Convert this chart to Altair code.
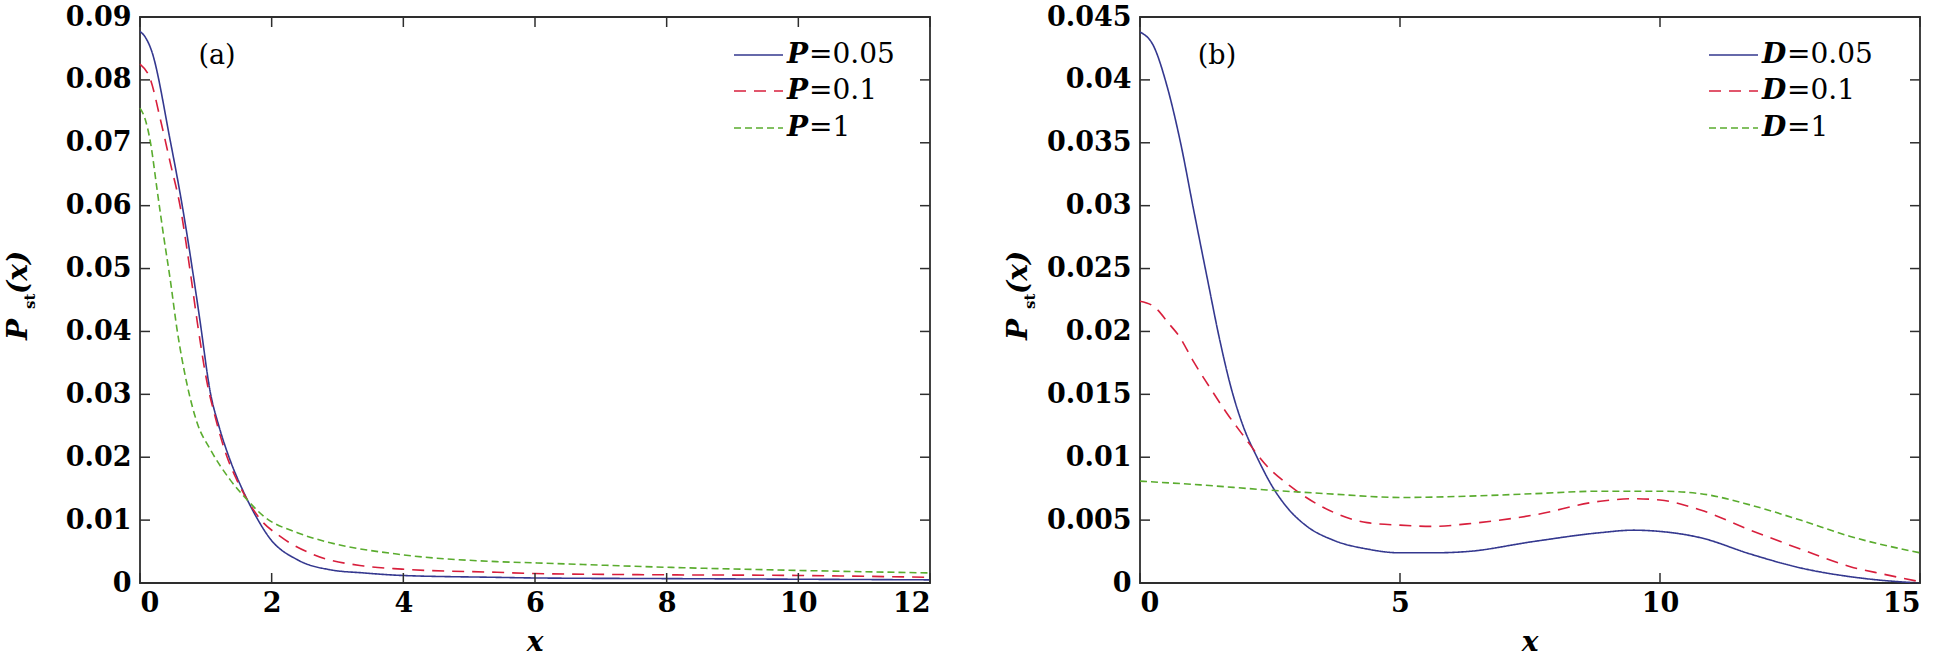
import altair as alt
import pandas as pd

# ---------------- panel (a): stationary density for several P ----------------
a_labels = ["P=0.05", "P=0.1", "P=1"]

a_x_p005 = [0, 0.08, 0.17, 0.46, 0.64, 0.85, 0.91, 1.07, 1.2, 1.37, 1.55, 1.73, 1.98,
            2.39, 2.89, 3.4, 3.98, 5.42, 6, 8, 10, 12]
a_y_p005 = [0.0877, 0.0868, 0.0848, 0.0703, 0.0601, 0.0461, 0.0418, 0.0302, 0.0249,
            0.0195, 0.0150, 0.0112, 0.0070, 0.0037, 0.0021, 0.0016, 0.0012, 0.0009,
            0.0008, 0.0007, 0.0006, 0.0005]

a_x_p01 = [0, 0.16, 0.31, 0.46, 0.61, 0.77, 0.87, 1.02, 1.14, 1.32, 1.47, 1.63, 1.83,
           2.13, 2.64, 3.4, 3.98, 5.42, 6, 8, 10, 12]
a_y_p01 = [0.0825, 0.080, 0.0737, 0.0668, 0.0599, 0.0490, 0.0415, 0.0318, 0.0265,
           0.0201, 0.0164, 0.0132, 0.0101, 0.0074, 0.0045, 0.0027, 0.0022, 0.0017,
           0.0015, 0.0013, 0.0012, 0.0009]

a_x_p1 = [0, 0.08, 0.16, 0.26, 0.36, 0.46, 0.56, 0.71, 0.87, 1.07, 1.37, 1.63, 1.88,
          2.39, 2.89, 3.9, 5.42, 6, 8, 10, 12]
a_y_p1 = [0.0755, 0.0737, 0.070, 0.0625, 0.0551, 0.0482, 0.0405, 0.0318, 0.0254,
          0.0212, 0.0164, 0.0132, 0.0106, 0.0080, 0.0064, 0.0046, 0.0034, 0.0032,
          0.0025, 0.0020, 0.0016]

a_x_ticks = [0, 2, 4, 6, 8, 10, 12]
a_y_ticks = [0, 0.01, 0.02, 0.03, 0.04, 0.05, 0.06, 0.07, 0.08, 0.09]

# ---------------- panel (b): stationary density for several D ----------------
b_labels = ["D=0.05", "D=0.1", "D=1"]

b_x_d005 = [0, 0.26, 0.52, 0.78, 1.03, 1.29, 1.54, 1.74, 1.99, 2.25, 2.57, 2.83, 3.18,
            3.72, 4.37, 5.0, 5.65, 6.29, 7.57, 8.85, 9.49, 10.0, 10.78, 11.74, 12.7,
            13.66, 14.3, 15]
b_y_d005 = [0.0438, 0.0427, 0.0395, 0.0350, 0.0297, 0.0243, 0.0192, 0.0157, 0.0124,
            0.0100, 0.0075, 0.0060, 0.0046, 0.0034, 0.0027, 0.0024, 0.0024, 0.0025,
            0.0033, 0.0040, 0.0042, 0.0041, 0.0036, 0.0023, 0.0012, 0.0005, 0.0002, 0.0]

b_x_d01 = [0, 0.26, 0.58, 0.74, 1.03, 1.35, 1.67, 1.99, 2.44, 2.89, 3.53, 4.37, 5.0,
           5.65, 6.29, 7.57, 8.85, 9.49, 10.0, 10.78, 11.74, 12.7, 13.66, 14.3, 15]
b_y_d01 = [0.0224, 0.0220, 0.0205, 0.0197, 0.0176, 0.0155, 0.0135, 0.0117, 0.0093,
           0.0077, 0.0060, 0.0048, 0.0046, 0.0045, 0.0047, 0.0054, 0.0065, 0.0067,
           0.0066, 0.0058, 0.0042, 0.0027, 0.0013, 0.0007, 0.0001]

b_x_d1 = [0, 1.16, 2.44, 3.6, 5.0, 6.29, 7.57, 8.85, 10.0, 10.78, 11.74, 12.7, 13.66, 15]
b_y_d1 = [0.0081, 0.0078, 0.0074, 0.0071, 0.0068, 0.0069, 0.0071, 0.0073, 0.0073,
          0.0071, 0.0062, 0.0050, 0.0037, 0.0024]

b_x_ticks = [0, 5, 10, 15]
b_y_ticks = [0, 0.005, 0.01, 0.015, 0.02, 0.025, 0.03, 0.035, 0.04, 0.045]

# ---------------- styling ----------------
FONT = "DejaVu Serif"
FRAME = "#2e2e2e"
LINE_COLORS = ["#34388f", "#d81f3c", "#5aac2e"]
LINE_DASHES = [[1, 0], [12, 8], [7, 4]]
TICK_LEN = 10
LABEL_STYLE = dict(labelFont=FONT, labelFontSize=27, labelFontWeight="bold",
                   labelColor="black")


def frame(xs_list, ys_list, labels):
    parts = []
    for xs, ys, lab in zip(xs_list, ys_list, labels):
        parts.append(pd.DataFrame({"x": xs, "y": ys, "series": lab}))
    return pd.concat(parts, ignore_index=True)


def text_layer(txt, x, y, size=28, **kw):
    return alt.Chart(pd.DataFrame({"t": [txt]})).mark_text(
        font=FONT, fontSize=size, color="black", **kw
    ).encode(text="t:N", x=alt.value(x), y=alt.value(y))


def panel(data, labels, symbol, x_max, y_max, x_ticks, y_ticks, y_fmt,
          width, height, letter, leg_x0, leg_sym_x, leg_val_x):
    xsc = alt.Scale(domain=[0, x_max], nice=False, zero=False)
    ysc = alt.Scale(domain=[0, y_max], nice=False, zero=False)
    xax = alt.Axis(values=x_ticks, format="~g", title=None, ticks=False,
                   domain=False, grid=False, labelPadding=7, **LABEL_STYLE)
    yax = alt.Axis(values=y_ticks, format=y_fmt, title=None, ticks=False,
                   domain=False, grid=False, labelPadding=9, **LABEL_STYLE)

    lines = alt.Chart(data).mark_line(strokeWidth=1.6, interpolate="monotone").encode(
        x=alt.X("x:Q", scale=xsc, axis=xax),
        y=alt.Y("y:Q", scale=ysc, axis=yax),
        color=alt.Color("series:N", scale=alt.Scale(domain=labels, range=LINE_COLORS),
                        legend=None),
        strokeDash=alt.StrokeDash("series:N",
                                  scale=alt.Scale(domain=labels, range=LINE_DASHES),
                                  legend=None),
    )

    # inward ticks on all four sides
    xt = pd.DataFrame({"t": x_ticks})
    yt = pd.DataFrame({"t": y_ticks})
    rule = dict(color=FRAME, strokeWidth=1.5)
    ticks = [
        alt.Chart(xt).mark_rule(**rule).encode(
            x=alt.X("t:Q", scale=xsc, axis=xax),
            y=alt.value(height), y2=alt.value(height - TICK_LEN)),
        alt.Chart(xt).mark_rule(**rule).encode(
            x=alt.X("t:Q", scale=xsc, axis=xax),
            y=alt.value(0), y2=alt.value(TICK_LEN)),
        alt.Chart(yt).mark_rule(**rule).encode(
            y=alt.Y("t:Q", scale=ysc, axis=yax),
            x=alt.value(0), x2=alt.value(TICK_LEN)),
        alt.Chart(yt).mark_rule(**rule).encode(
            y=alt.Y("t:Q", scale=ysc, axis=yax),
            x=alt.value(width), x2=alt.value(width - TICK_LEN)),
    ]

    # legend drawn by hand so the symbol can be italic and the value upright
    legend = []
    rows_y = [38, 74, 111]
    for lab, col, dash, ry in zip(labels, LINE_COLORS, LINE_DASHES, rows_y):
        legend.append(
            alt.Chart(pd.DataFrame({"s": [lab]})).mark_rule(
                color=col, strokeWidth=1.6, strokeDash=dash
            ).encode(x=alt.value(leg_x0), x2=alt.value(leg_x0 + 49), y=alt.value(ry),
                     detail="s:N"))
        legend.append(text_layer(symbol, leg_sym_x, ry, size=28, align="left",
                                 baseline="middle", fontStyle="italic", fontWeight="bold"))
        legend.append(text_layer("=" + lab.split("=")[1], leg_val_x, ry, size=28,
                                 align="left", baseline="middle"))

    # axis titles: P_st(x) on the left, x below
    ytitle = [
        text_layer("P", -113, 323, size=28, angle=270, align="left",
                   baseline="alphabetic", fontStyle="italic", fontWeight="bold"),
        text_layer("st", -105, 292, size=15, angle=270, align="left",
                   baseline="alphabetic", fontWeight="bold"),
        text_layer("(x)", -113, 277, size=28, angle=270, align="left",
                   baseline="alphabetic", fontStyle="italic", fontWeight="bold"),
    ]
    xtitle = text_layer("x", width / 2, height + 60, size=28, align="center",
                        baseline="middle", fontStyle="italic", fontWeight="bold")
    tag = text_layer(letter, 77, 39, size=27, align="center", baseline="middle")

    return alt.layer(lines, *ticks, *legend, *ytitle, xtitle, tag).properties(
        width=width, height=height,
        view=alt.ViewBackground(stroke=FRAME, strokeWidth=1.8, fill="white"))


panel_a = panel(frame([a_x_p005, a_x_p01, a_x_p1], [a_y_p005, a_y_p01, a_y_p1], a_labels),
                a_labels, "P", 12, 0.09, a_x_ticks, a_y_ticks, ".2~f",
                790, 566, "(a)", 594, 647, 669)
panel_b = panel(frame([b_x_d005, b_x_d01, b_x_d1], [b_y_d005, b_y_d01, b_y_d1], b_labels),
                b_labels, "D", 15, 0.045, b_x_ticks, b_y_ticks, ".3~f",
                780, 566, "(b)", 569, 622, 647)

chart = alt.hconcat(panel_a, panel_b, spacing=210, bounds="flush").properties(
    padding={"left": 4, "top": 2, "right": 0, "bottom": 12},
    background="white",
).configure_view(
    stroke=FRAME, strokeWidth=1.8
).configure_axis(**LABEL_STYLE)

chart.save("out.html", embed_options={"renderer": "svg", "actions": False})
